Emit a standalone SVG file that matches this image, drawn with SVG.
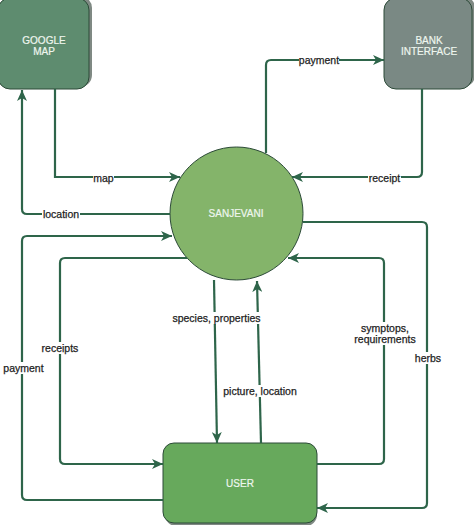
<svg xmlns="http://www.w3.org/2000/svg" width="474" height="525" viewBox="0 0 474 525">
<style>
.node-text{font-family:"Liberation Sans",Arial,sans-serif;font-size:10px;fill:#eef6ee;stroke:#eef6ee;stroke-width:0.2;text-anchor:middle;dominant-baseline:central}
.lbl{font-family:"Liberation Sans",Arial,sans-serif;font-size:10.5px;fill:#222;stroke:#222;stroke-width:0.25;text-anchor:middle;dominant-baseline:central}
.edge{fill:none;stroke:#2e654a;stroke-width:2.2;marker-end:url(#arr)}
.bg{fill:#fff}
.shadow{fill:#2a3a30;opacity:0.6}
</style>
<defs>
<marker id="arr" markerUnits="userSpaceOnUse" markerWidth="12" markerHeight="10" refX="11" refY="5" orient="auto">
<path d="M0,0 L11,5 L0,10 L3,5 Z" fill="#2e654a"/>
</marker>
</defs>
<rect width="474" height="525" fill="#fff"/>
<g id="google-map">
<rect class="shadow" x="1" y="-4" width="91" height="91" rx="12"/>
<rect x="-2" y="-2" width="91" height="91" rx="12" fill="#5e8c6f" stroke="#2c4a38" stroke-width="1"/>
<text class="node-text" x="44" y="40">GOOGLE</text>
<text class="node-text" x="44" y="51">MAP</text>
</g>
<g id="bank-interface">
<rect class="shadow" x="387" y="-4" width="88" height="91" rx="12"/>
<rect x="384" y="-2" width="88" height="91" rx="12" fill="#7a8984" stroke="#2c4a38" stroke-width="1"/>
<text class="node-text" x="429" y="40">BANK</text>
<text class="node-text" x="429" y="51">INTERFACE</text>
</g>
<g id="sanjevani">
<circle cx="236.5" cy="213.5" r="66.5" fill="#84b46a" stroke="#2c4a38" stroke-width="1"/>
<text class="node-text" x="236" y="213">SANJEVANI</text>
</g>
<g id="user">
<rect class="shadow" x="165" y="446" width="152" height="80" rx="11"/>
<rect x="163" y="443" width="154" height="80" rx="11" fill="#67a95c" stroke="#2c4a38" stroke-width="1"/>
<text class="node-text" x="240" y="483">USER</text>
</g>
<g id="connectors">
<path class="edge" d="M55,89 V177 H180"/>
<path class="edge" d="M170,214 H27 Q22,214 22,209 V90"/>
<path class="edge" d="M163,500 H27 Q22,500 22,495 V241 Q22,236 27,236 H172"/>
<path class="edge" d="M187,258 H65 Q60,258 60,263 V459 Q60,464 65,464 H163"/>
<path class="edge" d="M214,280 L217,443"/>
<path class="edge" d="M261,443 L257,281"/>
<path class="edge" d="M317,464 H379 Q384,464 384,459 V263 Q384,258 379,258 H288"/>
<path class="edge" d="M303,222 H422 Q427,222 427,227 V503 Q427,508 422,508 H317"/>
<path class="edge" d="M266,153 V65 Q266,60 271,60 H384"/>
<path class="edge" d="M422,89 V172 Q422,177 417,177 H292"/>
<g id="labels">
<rect class="bg" x="93" y="172" width="21" height="12"/>
<text class="lbl" x="103.5" y="178">map</text>
<rect class="bg" x="42" y="208" width="38" height="12"/>
<text class="lbl" x="61" y="214">location</text>
<rect class="bg" x="299" y="54" width="40" height="12"/>
<text class="lbl" x="319" y="60">payment</text>
<rect class="bg" x="368" y="172" width="33" height="12"/>
<text class="lbl" x="384.5" y="178">receipt</text>
<rect class="bg" x="3" y="362" width="41" height="12"/>
<text class="lbl" x="23.5" y="368">payment</text>
<rect class="bg" x="41" y="342" width="38" height="12"/>
<text class="lbl" x="60" y="348">receipts</text>
<rect class="bg" x="172" y="312" width="90" height="12"/>
<text class="lbl" x="216.5" y="318">species, properties</text>
<rect class="bg" x="222" y="385" width="76" height="12"/>
<text class="lbl" x="260" y="391">picture, location</text>
<rect class="bg" x="353" y="322" width="64" height="23"/>
<text class="lbl" x="385" y="328">symptops,</text>
<text class="lbl" x="385" y="339">requirements</text>
<rect class="bg" x="415" y="352" width="27" height="12"/>
<text class="lbl" x="428" y="358">herbs</text>
</g>
</g>
</svg>
